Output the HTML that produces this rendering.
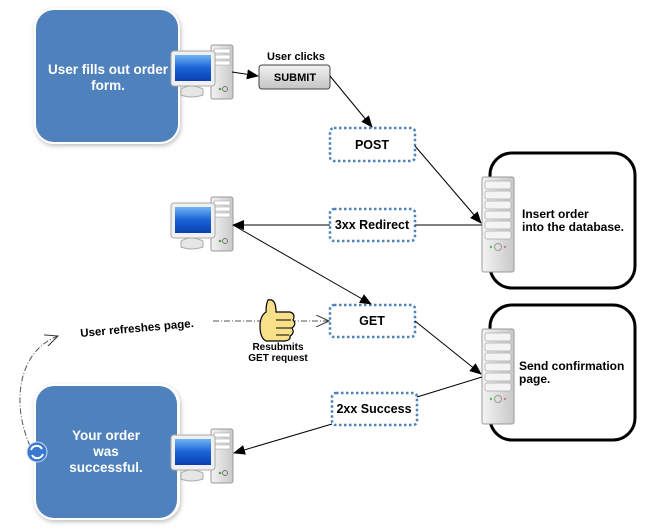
<!DOCTYPE html>
<html><head><meta charset="utf-8"><style>
html,body{margin:0;padding:0;background:#fff;}
svg{display:block;font-family:"Liberation Sans",sans-serif;}
.b{font-weight:bold;}
</style></head><body>
<svg width="648" height="529" viewBox="0 0 648 529" xmlns="http://www.w3.org/2000/svg">
<defs>
<linearGradient id="scr" x1="0" y1="0" x2="0" y2="1"><stop offset="0" stop-color="#6fb3f2"/><stop offset="0.5" stop-color="#1a63d6"/><stop offset="1" stop-color="#0b3fb0"/></linearGradient>
<linearGradient id="tw" x1="0" y1="0" x2="1" y2="0"><stop offset="0" stop-color="#f4f4f4"/><stop offset="1" stop-color="#c8c8c8"/></linearGradient>
<linearGradient id="btn" x1="0" y1="0" x2="0" y2="1"><stop offset="0" stop-color="#f2f2f2"/><stop offset="1" stop-color="#c4c4c4"/></linearGradient>
<marker id="ah" markerWidth="12" markerHeight="10" refX="11" refY="5" orient="auto" markerUnits="userSpaceOnUse"><path d="M0,0 L12,5 L0,10 z" fill="#000"/></marker>
<marker id="oa" markerWidth="14" markerHeight="12" refX="13" refY="6" orient="auto" markerUnits="userSpaceOnUse"><path d="M0,0 L13,6 L0,12" fill="none" stroke="#333" stroke-width="1"/></marker>
<filter id="sh" x="-10%" y="-10%" width="125%" height="125%"><feDropShadow dx="1" dy="2" stdDeviation="2" flood-color="#000" flood-opacity="0.25"/></filter>
<g id="pc">
<rect x="40" y="0" width="22" height="54" rx="2" fill="url(#tw)" stroke="#999" stroke-width="1"/>
<rect x="43" y="4" width="16" height="4" fill="#fff" stroke="#aaa" stroke-width="0.6"/>
<rect x="43" y="10" width="16" height="4" fill="#fff" stroke="#aaa" stroke-width="0.6"/>
<rect x="43" y="16" width="16" height="4" fill="#fff" stroke="#aaa" stroke-width="0.6"/>
<circle cx="54" cy="44" r="2.5" fill="none" stroke="#777"/>
<circle cx="49" cy="44" r="1.3" fill="#4a4"/>
<path d="M10,44 Q20,38 32,44 L32,50 Q20,54 10,50 z" fill="#e6e6e6" stroke="#aaa"/>
<rect x="0" y="6" width="44" height="35" rx="3" fill="#f0f0f0" stroke="#aaa"/>
<rect x="4" y="10" width="36" height="26" fill="url(#scr)"/>
</g>
<g id="srv">
<rect x="0" y="0" width="32" height="95" rx="2" fill="url(#tw)" stroke="#999"/>
<rect x="3" y="4" width="26" height="8" rx="2" fill="#f4f4f4" stroke="#aaa" stroke-width="0.7"/>
<rect x="3" y="14" width="26" height="8" rx="2" fill="#f4f4f4" stroke="#aaa" stroke-width="0.7"/>
<rect x="3" y="24" width="26" height="8" rx="2" fill="#f4f4f4" stroke="#aaa" stroke-width="0.7"/>
<rect x="3" y="34" width="26" height="8" rx="2" fill="#f4f4f4" stroke="#aaa" stroke-width="0.7"/>
<rect x="3" y="44" width="26" height="8" rx="2" fill="#f4f4f4" stroke="#aaa" stroke-width="0.7"/>
<rect x="3" y="54" width="26" height="8" rx="2" fill="#f4f4f4" stroke="#aaa" stroke-width="0.7"/>
<circle cx="16" cy="70" r="3.5" fill="none" stroke="#999"/>
<circle cx="9" cy="70" r="1.2" fill="#4c4"/><circle cx="23" cy="70" r="1.2" fill="#d77"/>
</g>
</defs>

<rect x="34" y="8" width="146" height="136" rx="20" fill="#fff" filter="url(#sh)"/>
<rect x="36" y="10" width="142" height="132" rx="18" fill="#4f81bd"/>
<text x="108" y="74" fill="#fff" class="b" font-size="13.5" text-anchor="middle">User fills out order</text>
<text x="108" y="90" fill="#fff" class="b" font-size="13.5" text-anchor="middle">form.</text>

<rect x="34" y="384" width="146" height="136" rx="20" fill="#fff" filter="url(#sh)"/>
<rect x="36" y="386" width="141" height="132" rx="18" fill="#4f81bd"/>
<text x="106" y="440" fill="#fff" class="b" font-size="13.5" text-anchor="middle">Your order</text>
<text x="106" y="456" fill="#fff" class="b" font-size="13.5" text-anchor="middle">was</text>
<text x="106" y="472" fill="#fff" class="b" font-size="13.5" text-anchor="middle">successful.</text>

<rect x="490" y="153" width="145" height="135" rx="22" fill="#fff" stroke="#000" stroke-width="3"/>
<rect x="490" y="305" width="145" height="135" rx="22" fill="#fff" stroke="#000" stroke-width="3"/>
<use href="#srv" x="482" y="177"/>
<use href="#srv" x="482" y="329"/>
<text x="522" y="218" class="b" font-size="12">Insert order</text>
<text x="522" y="231" class="b" font-size="12">into the database.</text>
<text x="519" y="370" class="b" font-size="12">Send confirmation</text>
<text x="519" y="383" class="b" font-size="12">page.</text>

<use href="#pc" x="171" y="45"/>
<use href="#pc" x="171" y="197"/>
<use href="#pc" x="171" y="429"/>

<text x="296" y="60" class="b" font-size="11" text-anchor="middle">User clicks</text>
<rect x="259" y="65" width="71" height="24" rx="3" fill="url(#btn)" stroke="#444"/>
<text x="295" y="81" class="b" font-size="11" text-anchor="middle">SUBMIT</text>

<g fill="#fff" stroke="#4f81bd" stroke-width="2.5" stroke-dasharray="2.5,2.5">
<rect x="330" y="128" width="85" height="33" rx="4"/>
<rect x="330" y="209" width="85" height="32" rx="4"/>
<rect x="330" y="305" width="85" height="32" rx="4"/>
<rect x="332" y="393" width="85" height="32" rx="4"/>
</g>
<text x="372" y="149" class="b" font-size="12.5" text-anchor="middle">POST</text>
<text x="372" y="229" class="b" font-size="12.5" text-anchor="middle">3xx Redirect</text>
<text x="372" y="325" class="b" font-size="12.5" text-anchor="middle">GET</text>
<text x="374" y="413" class="b" font-size="12.5" text-anchor="middle">2xx Success</text>

<g stroke="#000" stroke-width="1" fill="none">
<line x1="232" y1="72" x2="258" y2="76" marker-end="url(#ah)"/>
<line x1="330" y1="76" x2="372" y2="127" marker-end="url(#ah)"/>
<line x1="415" y1="146" x2="481" y2="223" marker-end="url(#ah)"/>
<line x1="482" y1="225" x2="415" y2="225"/>
<line x1="330" y1="225" x2="233" y2="225" marker-end="url(#ah)"/>
<line x1="233" y1="225" x2="371" y2="304" marker-end="url(#ah)"/>
<line x1="415" y1="321" x2="481" y2="374" marker-end="url(#ah)"/>
<line x1="482" y1="377" x2="417" y2="397"/>
<line x1="332" y1="424" x2="234" y2="453" marker-end="url(#ah)"/>
</g>

<g stroke="#555" stroke-width="1" fill="none" stroke-dasharray="6,2,1,2">
<path d="M30,446 C10,400 20,350 58,336" marker-end="url(#oa)"/>
<line x1="213" y1="321" x2="329" y2="321" marker-end="url(#oa)"/>
</g>
<text x="137" y="332" class="b" font-size="11.5" text-anchor="middle" transform="rotate(-5 137 328)">User refreshes page.</text>
<circle cx="37" cy="452" r="10" fill="#3a78d0" stroke="#cde" stroke-width="1"/>
<path d="M31,450 a6,6 0 0 1 11,-1 M43,454 a6,6 0 0 1 -11,1" stroke="#fff" stroke-width="2" fill="none"/>

<path d="M268,300 Q276,298 276,312 L290,312 Q296,314 293,320 Q297,324 292,328 Q295,333 290,336 Q291,340 285,341 L266,341 Q260,338 260,326 Q260,316 266,312 Q266,304 268,300 z" fill="#f8e08a" stroke="#000" stroke-width="1.2"/>
<path d="M276,320 L291,320 M276,328 L292,328 M276,335 L289,335" stroke="#000" stroke-width="1"/>
<text x="278" y="350" class="b" font-size="10" text-anchor="middle">Resubmits</text>
<text x="278" y="361" class="b" font-size="10" text-anchor="middle">GET request</text>
</svg>
</body></html>
